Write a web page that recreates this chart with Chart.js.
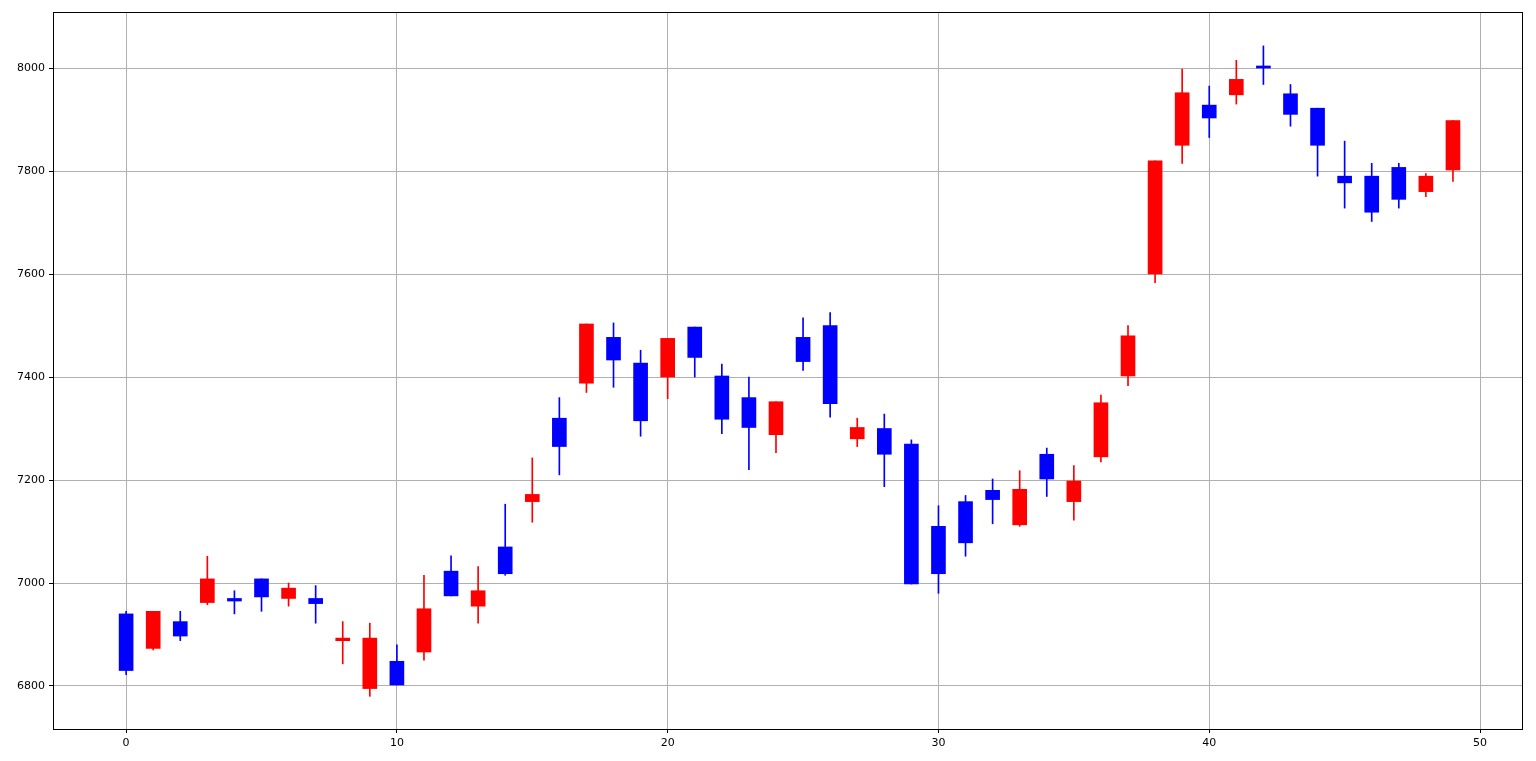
<!DOCTYPE html>
<html><head><meta charset="utf-8">
<script src="https://cdn.jsdelivr.net/npm/chart.js@4"></script>
<style>html,body{margin:0;padding:0;background:#fff}#w{width:1536px;height:761px}</style>
</head><body><div id="w"><canvas id="c"></canvas></div>
<script>
const opens  = [6940,6873,6925,6962,6970,7008,6970,6970,6888,6795,6848,6866,7023,6955,7070,7158,7320,7388,7477,7427,7400,7497,7402,7360,7288,7477,7500,7280,7300,7270,7110,7158,7180,7113,7250,7158,7245,7402,7600,7850,7928,7948,8002,7950,7922,7790,7790,7807,7760,7802];
const closes = [6830,6945,6897,7008,6965,6973,6990,6960,6893,6893,6802,6950,6975,6985,7018,7172,7265,7503,7433,7315,7475,7438,7318,7302,7352,7430,7348,7302,7250,6998,7018,7078,7162,7182,7202,7198,7350,7480,7820,7952,7903,7978,8000,7910,7850,7777,7720,7745,7790,7898];
const highs  = [6945,6945,6945,7052,6985,7008,7000,6995,6925,6922,6880,7015,7053,7032,7153,7243,7360,7503,7505,7452,7475,7497,7425,7400,7352,7515,7525,7320,7328,7278,7150,7170,7202,7218,7262,7228,7365,7500,7820,7998,7965,8015,8043,7968,7922,7858,7815,7815,7795,7898];
const lows   = [6822,6870,6888,6958,6940,6945,6955,6922,6843,6780,6802,6850,6975,6922,7015,7118,7210,7370,7380,7285,7358,7400,7290,7220,7253,7413,7322,7265,7187,6998,6980,7052,7115,7110,7168,7122,7235,7383,7583,7815,7865,7930,7968,7887,7790,7728,7702,7728,7750,7780];
const xTicks = [0,10,20,30,40,50];
const yTicks = [6800,7000,7200,7400,7600,7800,8000];

const idx = opens.map((_, i) => i);
const col = idx.map(i => closes[i] >= opens[i] ? '#ff0000' : '#0000ff');
new Chart(document.getElementById('c'), {
  type: 'bar',
  data: { datasets: [
    { data: idx.map(i => ({x: i, y: [lows[i], highs[i]]})), backgroundColor: col, barThickness: 1, grouped: false, order: 2 },
    { data: idx.map(i => ({x: i, y: [Math.min(opens[i], closes[i]), Math.max(opens[i], closes[i]) + (Math.abs(opens[i]-closes[i])<3?2:0)]})), backgroundColor: col, barThickness: 14, grouped: false, order: 1 }
  ]},
  options: {
    responsive: true, maintainAspectRatio: false, animation: false,
    layout: { padding: { top: 12, right: 14, left: 0, bottom: 0 } },
    plugins: { legend: { display: false }, tooltip: { enabled: false } },
    scales: {
      x: { type: 'linear', offset: false, min: -2.7, max: 51.55,
           afterBuildTicks: a => { a.ticks = xTicks.map(v => ({value: v})); },
           afterFit: a => { a.height = 32; },
           grid: { offset: false, color: '#b0b0b0', tickLength: 4, tickColor: '#000' },
           border: { color: '#000', width: 1 },
           ticks: { color: '#000', font: { family: 'DejaVu Sans', size: 11 }, padding: 4, maxRotation: 0, callback: v => String(v) } },
      y: { min: 6716.5, max: 8108.8,
           afterBuildTicks: a => { a.ticks = yTicks.map(v => ({value: v})); },
           afterFit: a => { a.width = 53; },
           grid: { color: '#b0b0b0', tickLength: 4, tickColor: '#000' },
           border: { color: '#000', width: 1 },
           ticks: { color: '#000', font: { family: 'DejaVu Sans', size: 11 }, padding: 4, callback: v => String(v) } }
    }
  },
  plugins: [{ id: 'frame', afterDraw(ch) { const a = ch.chartArea, c = ch.ctx; c.save(); c.strokeStyle = '#000'; c.lineWidth = 1; c.strokeRect(a.left + 0.5, a.top + 0.5, a.right - a.left, a.bottom - a.top); c.restore(); } }]
});
</script></body></html>
